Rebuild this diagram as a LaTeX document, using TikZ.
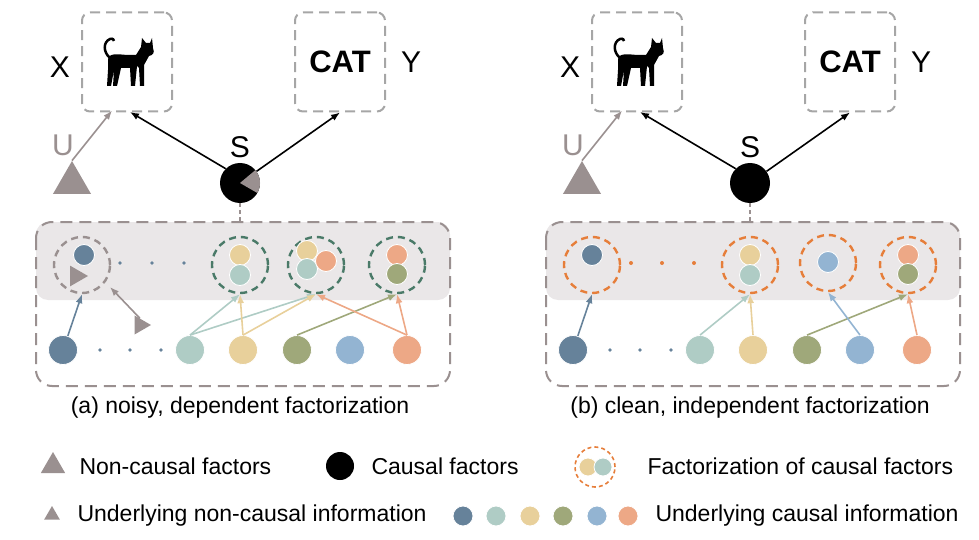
\documentclass[tikz,border=0pt]{standalone}
\usepackage{fontspec}
\setmainfont{Liberation Sans}
\usetikzlibrary{shapes.geometric}
\begin{document}
\begin{tikzpicture}[x=1pt,y=-1pt,
 >=latex,
 box/.style={draw=gray!70,dashed,dash pattern=on 10pt off 6pt,line width=2pt,rounded corners=8pt,minimum width=90pt,minimum height=99pt},
 dot/.style={circle,draw=white,line width=0.8pt,minimum size=#1,inner sep=0},
 dot/.default=21pt,
 bdot/.style={circle,draw=white,line width=0.8pt,minimum size=29pt,inner sep=0},
 grp/.style={circle,draw=#1,dash pattern=on 7pt off 5pt,line width=2.4pt,minimum size=56pt,inner sep=0},
 lbl/.style={font=\fontsize{30}{32}\selectfont},
 captxt/.style={font=\fontsize{23}{26}\selectfont},
 ar/.style={-{Latex[length=9pt,width=7pt]},line width=1.6pt,draw=#1},
 tri/.style={regular polygon,regular polygon sides=3,fill=tg,inner sep=0,minimum size=#1},
]
\usetikzlibrary{arrows.meta}
\definecolor{cA}{HTML}{66829A}\definecolor{cB}{HTML}{AFCCC5}\definecolor{cC}{HTML}{E8D09B}
\definecolor{cD}{HTML}{9FA87A}\definecolor{cE}{HTML}{93B4D2}\definecolor{cF}{HTML}{EDA886}
\definecolor{gG}{HTML}{4A7A68}\definecolor{oO}{HTML}{E67E3A}\definecolor{tg}{HTML}{9A9090}
\definecolor{bg}{HTML}{EAE7E8}
\useasboundingbox (0,0) rectangle (979,540);
\foreach \o/\p in {0/a,510/b}{
\begin{scope}[xshift=\o]
 \fill[bg,rounded corners=12pt] (36,222) -- (450,222) -- (450,300) -- (36,300) -- cycle;
 \draw[tg,line width=2pt,dash pattern=on 12pt off 7pt,rounded corners=16pt] (36,222) rectangle (450,386);
 \node[box] (X\p) at (127,62) {};
 \begin{scope}[shift={(127,62)}]
  \fill[black] (-19,-2) .. controls (-19,-9) and (-10,-8) .. (0,-7) -- (9,-7) -- (14,-15) -- (15,-24) -- (19,-19) -- (23,-19) -- (25,-24) -- (26,-14) .. controls (28,-9) and (26,-7) .. (22,-6) -- (17,3) -- (17,24) -- (13,24) -- (12,6) -- (10,4) -- (8,24) -- (4,24) -- (3,6) -- (-6,6) -- (-10,24) -- (-14,24) -- (-13,8) -- (-16,24) -- (-20,24) -- (-19,8) -- cycle;
  \draw[black,line width=2.5pt] (-17,-4) .. controls (-24,-10) and (-24,-20) .. (-17,-23) .. controls (-14,-24) and (-13,-22) .. (-13,-21);
 \end{scope}
 \node[box] (Y\p) at (340,62) {\fontsize{31}{33}\selectfont\bfseries CAT};
 \node[lbl] at (60,67) {X};
 \node[lbl] at (411,62) {Y};
 \node[lbl,text=tg] at (63,145) {U};
 \node[lbl] at (240,147) {S};
 \node[tri=44pt] (U\p) at (72,183) {};
 \node[circle,fill=black,minimum size=40pt,inner sep=0] (S\p) at (240,183) {};
 \draw[ar=tg] (U\p.north) -- ++(40,-50);
 \draw[ar=black] (S\p) -- (Y\p.south);
 \draw[ar=black] (S\p.north west) -- (130,112);
 \draw[tg,line width=2.5pt,dash pattern=on 4pt off 3pt] (S\p.south) -- (240,222);
 \node[bdot,fill=cA] (b1\p) at (63,350) {};
 \node[bdot,fill=cB] (b2\p) at (190,350) {};
 \node[bdot,fill=cC] (b3\p) at (243,350) {};
 \node[bdot,fill=cD] (b4\p) at (297,350) {};
 \node[bdot,fill=cE] (b5\p) at (350,350) {};
 \node[bdot,fill=cF] (b6\p) at (407,350) {};
 \foreach \x in {100,130,161} \fill[cA] (\x,350) circle (1.8);
\end{scope}}
\fill[tg] (240,183) -- ++(-40:20) arc(-40:30:20) -- cycle;
\node[grp=tg] (g1a) at (82,265) {};
\node[dot,fill=cA] at (84,255) {};
\node[tri=24pt,rotate=-90] at (76,276) {};
\foreach \x in {120,152,184} \fill[cA] (\x,263) circle (1.8);
\node[grp=gG] (g2a) at (240,265) {};
\node[dot,fill=cC] at (240,255) {};\node[dot,fill=cB] at (240,275) {};
\node[grp=gG] (g3a) at (316,265) {};
\node[dot,fill=cC] at (307,251) {};\node[dot,fill=cB] at (307,269) {};\node[dot,fill=cF] at (326,261) {};
\node[grp=gG] (g4a) at (397,265) {};
\node[dot,fill=cF] at (397,255) {};\node[dot,fill=cD] at (397,274) {};
\node[tri=22pt,rotate=-90] (ta) at (140,325) {};
\draw[ar=cA] (b1a) -- (g1a.south);
\draw[ar=tg] (ta.west) -- (110,287);
\draw[ar=cB] (b2a.north) -- (g2a.south);
\draw[ar=cB] (b2a.north) -- (g3a.south);
\draw[ar=cC] (b3a.north) -- (g2a.south);
\draw[ar=cC] (b3a.north) -- (g3a.south);
\draw[ar=cD] (b4a.north) -- (g4a.south);
\draw[ar=cF] (b6a.north) -- (g3a.south);
\draw[ar=cF] (b6a.north) -- (g4a.south);
\node[captxt] at (240,408) {(a) noisy, dependent factorization};
\node[grp=oO] (g1b) at (592,265) {};
\node[dot,fill=cA] at (592,255) {};
\foreach \x in {631,662,694} \fill[oO] (\x,263) circle (2);
\node[grp=oO] (g2b) at (750,265) {};
\node[dot,fill=cC] at (750,255) {};\node[dot,fill=cB] at (750,275) {};
\node[grp=oO] (g3b) at (828,263) {};
\node[dot,fill=cE] at (828,262) {};
\node[grp=oO] (g4b) at (908,265) {};
\node[dot,fill=cF] at (908,255) {};\node[dot,fill=cD] at (908,274) {};
\draw[ar=cA] (b1b) -- (g1b.south);
\draw[ar=cB] (b2b.north) -- (g2b.south);
\draw[ar=cC] (b3b.north) -- (g2b.south);
\draw[ar=cD] (b4b.north) -- (g4b.south);
\draw[ar=cE] (b5b.north) -- (g3b.south);
\draw[ar=cF] (b6b.north) -- (g4b.south);
\node[captxt] at (750,408) {(b) clean, independent factorization};
\node[tri=28pt] (l1) at (53,466) {};
\node[captxt,anchor=west] at (76,466) {Non-causal factors};
\node[circle,fill=black,minimum size=28pt,inner sep=0] (l2) at (340,466) {};
\node[captxt,anchor=west] at (368,466) {Causal factors};
\node[grp=oO,minimum size=40pt,line width=1.6pt,dash pattern=on 4pt off 3pt] (l3) at (595,467) {};
\node[dot=18pt,fill=cC] at (588,467) {};\node[dot=18pt,fill=cB] at (603,467) {};
\node[captxt,anchor=west] at (644,466) {Factorization of causal factors};
\node[tri=18pt] (l4) at (52,515) {};
\node[captxt,anchor=west] at (74,516) {Underlying non-causal information};
\foreach \x/\c in {463/cA,496/cB,530/cC,563/cD,597/cE,628/cF} \node[dot=20pt,fill=\c] at (\x,516) {};
\node[captxt,anchor=west] at (652,516) {Underlying causal information};
\end{tikzpicture}
\end{document}
